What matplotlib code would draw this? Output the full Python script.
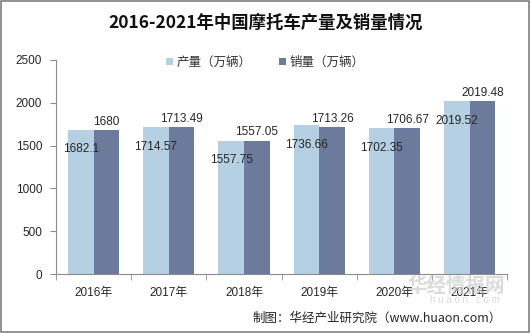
import matplotlib
matplotlib.use("Agg")
import matplotlib.pyplot as plt
import numpy as np
from matplotlib.patches import Rectangle

plt.rcParams['font.family'] = ['Liberation Sans', 'Noto Sans CJK SC', 'DejaVu Sans']

years = ['2016年', '2017年', '2018年', '2019年', '2020年', '2021年']
production = [1682.1, 1714.57, 1557.75, 1736.66, 1702.35, 2019.52]
sales = [1680, 1713.49, 1557.05, 1713.26, 1706.67, 2019.48]

light = '#B4D0E2'
dark = '#6C7A9C'
axis_gray = '#8C8C8C'
text_col = '#262626'

fig = plt.figure(figsize=(5.31, 3.33), dpi=100)
ax = fig.add_axes([0.1055, 0.177, 0.8495, 0.643])

x = np.arange(len(years))
w = 0.34
ax.bar(x - w / 2, production, w, color=light, label='产量（万辆）')
ax.bar(x + w / 2, sales, w, color=dark, label='销量（万辆）')

# production values sit just inside the bar top, sales values above it
for xi, p, s in zip(x, production, sales):
    ax.annotate(f'{p:g}', (xi - w / 2, p), xytext=(0, -14), textcoords='offset points',
                ha='center', va='center', fontsize=8.5, color=text_col)
    ax.annotate(f'{s:g}', (xi + w / 2, s), xytext=(0, 6), textcoords='offset points',
                ha='center', va='center', fontsize=8.5, color=text_col)

ax.set_xlim(-0.5, len(years) - 0.5)
ax.set_ylim(0, 2500)
ax.set_yticks(range(0, 2501, 500))
ax.set_xticks(x)
ax.set_xticklabels(years)
ax.set_xticks(np.arange(-0.5, len(years)), minor=True)
ax.tick_params(axis='x', which='major', length=0, pad=9, labelsize=8.5, labelcolor=text_col)
ax.tick_params(axis='x', which='minor', length=4, color=axis_gray, direction='out')
ax.tick_params(axis='y', length=4, color=axis_gray, labelsize=8.5, labelcolor=text_col, pad=6)

for side in ['top', 'right']:
    ax.spines[side].set_visible(False)
for side in ['left', 'bottom']:
    ax.spines[side].set_color(axis_gray)
    ax.spines[side].set_linewidth(0.8)

fig.text(0.5, 0.933, '2016-2021年中国摩托车产量及销量情况', ha='center', va='center',
         fontsize=12.5, fontweight='bold', color='#111111',
         family=['Noto Sans CJK SC', 'DejaVu Sans'])

ax.legend(loc='center', bbox_to_anchor=(0.5, 0.813), bbox_transform=fig.transFigure,
          ncol=2, frameon=False, handlelength=0.55, handleheight=0.55,
          handletextpad=0.3, columnspacing=2.2, labelcolor='#333333',
          prop={'family': ['Noto Sans CJK SC'], 'size': 9})

# faint site watermark behind the last categories
fig.text(0.86, 0.142, '华经情报网', ha='center', va='center', fontsize=14, fontweight='bold',
         color='#CFCFCF', alpha=0.75, family=['Noto Sans CJK SC'], zorder=0)
fig.text(0.875, 0.098, 'h u a o n . c o m', ha='center', va='center', fontsize=7,
         color='#D8D8D8', zorder=0)

fig.text(0.945, 0.045, '制图：华经产业研究院（www.huaon.com）', ha='right', va='center',
         fontsize=9, color=text_col, family=['Noto Sans CJK SC', 'DejaVu Sans'])

fig.patches.append(Rectangle((0.002, 0.003), 0.995, 0.994, transform=fig.transFigure,
                             fill=False, edgecolor='#7F7F7F', linewidth=1.2))

fig.savefig('out.png', dpi=100)
